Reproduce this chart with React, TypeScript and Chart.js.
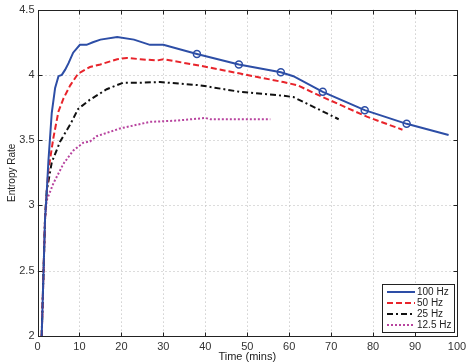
import React, { useEffect, useRef } from 'react';
import { Chart, registerables } from 'chart.js';
Chart.register(...registerables);

const hz100X = [1.0, 1.8, 2.2, 2.6, 3.4, 4.2, 5.0, 5.8, 6.6, 7.4, 8.5, 10.1, 11.7, 13.2, 15, 19, 23, 26.8, 30, 38, 48, 58, 61, 68, 78, 88, 98];
const hz100Y = [2.0, 2.9, 3.1, 3.34, 3.71, 3.9, 3.99, 4.0, 4.04, 4.09, 4.17, 4.23, 4.23, 4.25, 4.27, 4.29, 4.27, 4.23, 4.23, 4.16, 4.08, 4.02, 3.99, 3.87, 3.73, 3.625, 3.54];

const hz50X = [1.0, 1.8, 2.2, 2.6, 3.8, 5.0, 6.2, 7.8, 9.7, 12.5, 15, 19, 21.3, 24.5, 28.5, 30, 38.8, 48.3, 58.6, 62, 68, 78.5, 87];
const hz50Y = [2.0, 2.9, 3.1, 3.27, 3.52, 3.72, 3.82, 3.92, 4.01, 4.06, 4.08, 4.12, 4.13, 4.12, 4.11, 4.12, 4.07, 4.01, 3.945, 3.92, 3.83, 3.68, 3.58];

const hz25X = [1.0, 1.8, 2.2, 3.4, 5.4, 7.8, 9.7, 12.5, 16.5, 20.4, 24.5, 29.2, 38.8, 48.3, 58.6, 61, 67.4, 71.8];
const hz25Y = [2.0, 2.9, 3.11, 3.33, 3.49, 3.62, 3.74, 3.81, 3.89, 3.94, 3.94, 3.945, 3.92, 3.87, 3.84, 3.83, 3.73, 3.66];

const hz12X = [1.0, 1.8, 2.2, 3.8, 6.2, 8.5, 10.9, 12.5, 14.1, 19.7, 26.8, 33.2, 40, 41.2, 55.5];
const hz12Y = [2.0, 2.9, 3.04, 3.17, 3.32, 3.42, 3.48, 3.49, 3.53, 3.59, 3.64, 3.65, 3.67, 3.66, 3.66];

const markerTimes = [38, 48, 58, 68, 78, 88];
const seriesLabels = ['100 Hz', '50 Hz', '25 Hz', '12.5 Hz'];
const xTicks = [0, 10, 20, 30, 40, 50, 60, 70, 80, 90, 100];
const yTicks = [2, 2.5, 3, 3.5, 4, 4.5];

const FONT = '"Liberation Sans", Arial, sans-serif';

const pts = (xs: number[], ys: number[]) => xs.map((x, i) => ({ x, y: ys[i] }));

const framePlugin = {
  id: 'matlabFrame',
  beforeDatasetsDraw(chart: any) {
    const { ctx, chartArea: a, scales } = chart;
    ctx.save();
    ctx.strokeStyle = '#b8b8b8';
    ctx.lineWidth = 1;
    ctx.setLineDash([1, 3]);
    xTicks.forEach((v) => {
      const px = Math.round(scales.x.getPixelForValue(v)) + 0.5;
      if (v === xTicks[0] || v === xTicks[xTicks.length - 1]) return;
      ctx.beginPath();
      ctx.moveTo(px, a.top);
      ctx.lineTo(px, a.bottom);
      ctx.stroke();
    });
    yTicks.forEach((v) => {
      const py = Math.round(scales.y.getPixelForValue(v)) + 0.5;
      if (v === yTicks[0] || v === yTicks[yTicks.length - 1]) return;
      ctx.beginPath();
      ctx.moveTo(a.left, py);
      ctx.lineTo(a.right, py);
      ctx.stroke();
    });
    ctx.restore();
  },
  afterDatasetsDraw(chart: any) {
    const { ctx, chartArea: a, scales } = chart;
    ctx.save();
    ctx.strokeStyle = '#222';
    ctx.lineWidth = 1;
    ctx.setLineDash([]);
    const L = Math.round(a.left) + 0.5, R = Math.round(a.right) + 0.5;
    const T = Math.round(a.top) + 0.5, B = Math.round(a.bottom) + 0.5;
    ctx.strokeRect(L, T, R - L, B - T);
    const tl = 4;
    ctx.beginPath();
    xTicks.forEach((v) => {
      const px = Math.round(scales.x.getPixelForValue(v)) + 0.5;
      ctx.moveTo(px, B); ctx.lineTo(px, B - tl);
      ctx.moveTo(px, T); ctx.lineTo(px, T + tl);
    });
    yTicks.forEach((v) => {
      const py = Math.round(scales.y.getPixelForValue(v)) + 0.5;
      ctx.moveTo(L, py); ctx.lineTo(L + tl, py);
      ctx.moveTo(R, py); ctx.lineTo(R - tl, py);
    });
    ctx.stroke();
    ctx.restore();
  },
  afterDraw(chart: any) {
    const { ctx, chartArea: a } = chart;
    const ds = chart.data.datasets;
    const boxR = a.right - 3;
    const boxL = boxR - 72;
    const boxB = a.bottom - 4;
    const rowH = 11;
    const boxT = boxB - rowH * ds.length - 4;
    ctx.save();
    ctx.fillStyle = '#fff';
    ctx.fillRect(boxL, boxT, boxR - boxL, boxB - boxT);
    ctx.strokeStyle = '#222';
    ctx.lineWidth = 1;
    ctx.setLineDash([]);
    ctx.strokeRect(Math.round(boxL) + 0.5, Math.round(boxT) + 0.5, Math.round(boxR - boxL), Math.round(boxB - boxT));
    ds.forEach((d: any, i: number) => {
      const y = boxT + 8 + i * rowH;
      ctx.strokeStyle = d.borderColor;
      ctx.lineWidth = d.borderWidth;
      ctx.setLineDash(d.borderDash || []);
      ctx.beginPath();
      ctx.moveTo(boxL + 5, y);
      ctx.lineTo(boxL + 33, y);
      ctx.stroke();
      ctx.setLineDash([]);
      ctx.fillStyle = '#222';
      ctx.font = `10px ${FONT}`;
      ctx.textBaseline = 'middle';
      ctx.textAlign = 'left';
      ctx.fillText(d.label, boxL + 35, y + 0.5);
    });
    ctx.restore();
  },
};

export default function App() {
  const ref = useRef<HTMLCanvasElement | null>(null);
  useEffect(() => {
    document.body.style.margin = '0';
    const canvas = ref.current;
    if (!canvas) return;
    const chart = new Chart(canvas, {
      type: 'line',
      data: {
        datasets: [
          {
            label: seriesLabels[0],
            data: pts(hz100X, hz100Y),
            borderColor: '#2d4ea6',
            borderWidth: 2,
            pointRadius: (c: any) => (markerTimes.includes(hz100X[c.dataIndex]) ? 3.5 : 0),
            pointBorderColor: '#2d4ea6',
            pointBackgroundColor: 'rgba(255,255,255,0)',
            pointBorderWidth: 1.5,
            tension: 0,
          },
          {
            label: seriesLabels[1],
            data: pts(hz50X, hz50Y),
            borderColor: '#e8242b',
            borderWidth: 2,
            borderDash: [6, 3],
            pointRadius: 0,
            tension: 0,
          },
          {
            label: seriesLabels[2],
            data: pts(hz25X, hz25Y),
            borderColor: '#111111',
            borderWidth: 2,
            borderDash: [6, 3, 2, 3],
            pointRadius: 0,
            tension: 0,
          },
          {
            label: seriesLabels[3],
            data: pts(hz12X, hz12Y),
            borderColor: '#b8449f',
            borderWidth: 2,
            borderDash: [2, 2],
            pointRadius: 0,
            tension: 0,
          },
        ],
      },
      options: {
        responsive: true,
        maintainAspectRatio: false,
        animation: false,
        layout: { padding: { top: 7, right: 17, left: 0, bottom: 0 } },
        plugins: { legend: { display: false }, tooltip: { enabled: false } },
        scales: {
          x: {
            type: 'linear',
            min: 0,
            max: 100,
            afterBuildTicks: (s: any) => { s.ticks = xTicks.map((v) => ({ value: v })); },
            afterFit: (s: any) => { s.height = 28; },
            grid: { display: false, drawTicks: false },
            border: { display: false },
            ticks: { padding: 4, color: '#333', font: { family: FONT, size: 11 }, maxRotation: 0, autoSkip: false, callback: (v: any) => String(v) },
            title: { display: true, text: 'Time (mins)', color: '#222', font: { family: FONT, size: 11 }, padding: { top: 0, bottom: 0 } },
          },
          y: {
            type: 'linear',
            min: 2,
            max: 4.5,
            afterBuildTicks: (s: any) => { s.ticks = yTicks.map((v) => ({ value: v })); },
            afterFit: (s: any) => { s.width = 37.5; },
            grid: { display: false, drawTicks: false },
            border: { display: false },
            ticks: { padding: 3, color: '#333', font: { family: FONT, size: 11 }, autoSkip: false, callback: (v: any) => String(v) },
            title: { display: true, text: 'Entropy Rate', color: '#222', font: { family: FONT, size: 10 }, padding: { top: 6, bottom: 0 } },
          },
        },
      },
      plugins: [framePlugin],
    } as any);
    return () => chart.destroy();
  }, []);
  return (
    <div style={{ position: 'relative', width: 474, height: 364 }}>
      <canvas ref={ref} />
    </div>
  );
}
